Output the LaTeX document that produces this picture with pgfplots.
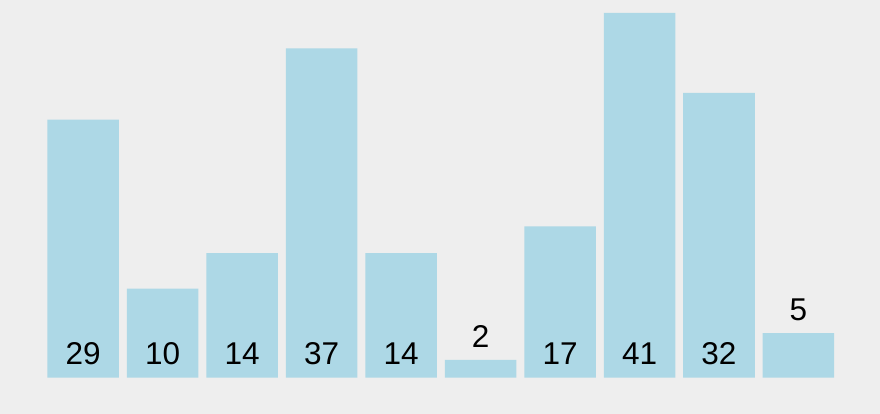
\documentclass[border=0pt]{standalone}
\usepackage{pgfplots}
\pgfplotsset{compat=1.18}
\usepackage{fontspec}
\setmainfont{Liberation Sans}

\definecolor{bgc}{HTML}{EEEEEE}
\definecolor{barc}{HTML}{ADD8E6}

\begin{document}
\begin{tikzpicture}
  \fill[bgc] (0,0) rectangle (880pt,414pt);
  \begin{axis}[
      at={(0,0)}, anchor=south west,
      scale only axis,
      width=880pt, height=414pt,
      hide axis,
      xmin=-1.0462, xmax=10.0258,
      ymin=-4.079, ymax=42.438,
      ybar, bar width=71.5pt,
      clip=false,
      nodes near coords,
      /pgf/number format/assume math mode=true,
      visualization depends on={rawy \as \rawy},
      every node near coord/.append style={
          anchor=base, text=black,
          font=\fontsize{31.5}{36}\selectfont,
          yshift={\rawy<6 ? 12.5 : 13-\rawy*8.9}},
    ]
    % values shown on the bars
    \addplot[fill=barc, draw=none] coordinates {
      (0,29) (1,10) (2,14) (3,37) (4,14)
      (5,2) (6,17) (7,41) (8,32) (9,5)};
  \end{axis}
\end{tikzpicture}
\end{document}
